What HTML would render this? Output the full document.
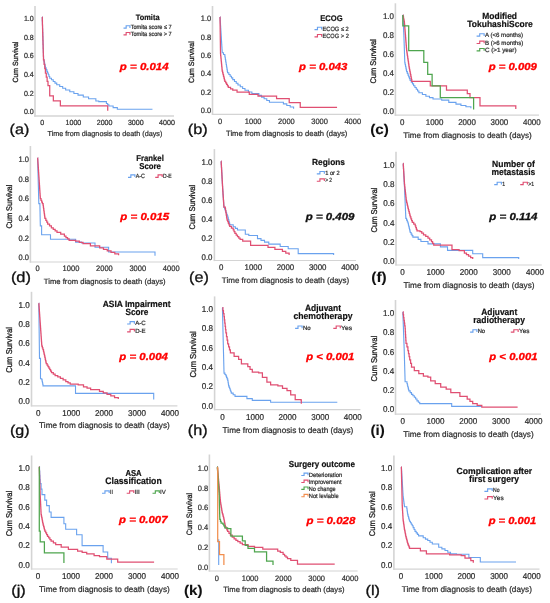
<!DOCTYPE html>
<html><head><meta charset="utf-8"><style>
html,body{margin:0;padding:0;background:#fff;}
svg{display:block;font-family:"Liberation Sans", sans-serif;text-rendering:geometricPrecision;filter:blur(0.35px);}
</style></head><body>
<svg width="550" height="603" viewBox="0 0 550 603">
<rect width="550" height="603" fill="#fff"/>
<line x1="35.00" y1="6.00" x2="35.00" y2="116.80" stroke="#d4d4d4" stroke-width="1.6"/>
<line x1="34.20" y1="116.00" x2="174.00" y2="116.00" stroke="#d4d4d4" stroke-width="1.6"/>
<text x="33.80" y="114.36" font-size="7.46" fill="#2e2e2e" stroke="#2e2e2e" stroke-width="0.22" text-anchor="end" textLength="9.87" lengthAdjust="spacingAndGlyphs">0.0</text>
<text x="33.80" y="95.68" font-size="7.46" fill="#2e2e2e" stroke="#2e2e2e" stroke-width="0.22" text-anchor="end" textLength="9.87" lengthAdjust="spacingAndGlyphs">0.2</text>
<text x="33.80" y="77.00" font-size="7.46" fill="#2e2e2e" stroke="#2e2e2e" stroke-width="0.22" text-anchor="end" textLength="9.87" lengthAdjust="spacingAndGlyphs">0.4</text>
<text x="33.80" y="58.32" font-size="7.46" fill="#2e2e2e" stroke="#2e2e2e" stroke-width="0.22" text-anchor="end" textLength="9.87" lengthAdjust="spacingAndGlyphs">0.6</text>
<text x="33.80" y="39.64" font-size="7.46" fill="#2e2e2e" stroke="#2e2e2e" stroke-width="0.22" text-anchor="end" textLength="9.87" lengthAdjust="spacingAndGlyphs">0.8</text>
<text x="33.80" y="20.96" font-size="7.46" fill="#2e2e2e" stroke="#2e2e2e" stroke-width="0.22" text-anchor="end" textLength="9.87" lengthAdjust="spacingAndGlyphs">1.0</text>
<text x="42.20" y="124.50" font-size="7.46" fill="#2e2e2e" stroke="#2e2e2e" stroke-width="0.22" text-anchor="middle" textLength="3.95" lengthAdjust="spacingAndGlyphs">0</text>
<text x="73.40" y="124.50" font-size="7.46" fill="#2e2e2e" stroke="#2e2e2e" stroke-width="0.22" text-anchor="middle" textLength="15.79" lengthAdjust="spacingAndGlyphs">1000</text>
<text x="104.60" y="124.50" font-size="7.46" fill="#2e2e2e" stroke="#2e2e2e" stroke-width="0.22" text-anchor="middle" textLength="15.79" lengthAdjust="spacingAndGlyphs">2000</text>
<text x="135.80" y="124.50" font-size="7.46" fill="#2e2e2e" stroke="#2e2e2e" stroke-width="0.22" text-anchor="middle" textLength="15.79" lengthAdjust="spacingAndGlyphs">3000</text>
<text x="167.00" y="124.50" font-size="7.46" fill="#2e2e2e" stroke="#2e2e2e" stroke-width="0.22" text-anchor="middle" textLength="15.79" lengthAdjust="spacingAndGlyphs">4000</text>
<text x="18.50" y="62.10" font-size="7.51" fill="#222" stroke="#222" stroke-width="0.3" text-anchor="middle" textLength="40.60" lengthAdjust="spacingAndGlyphs" transform="rotate(-90 18.50 62.10)">Cum Survival</text>
<text x="9.61" y="133.50" font-size="14.29" fill="#111" stroke="#111" stroke-width="0.3" textLength="19.67" lengthAdjust="spacingAndGlyphs">(a)</text>
<text x="47.57" y="136.10" font-size="7.21" fill="#2e2e2e" stroke="#2e2e2e" stroke-width="0.22" textLength="114.74" lengthAdjust="spacingAndGlyphs">Time from diagnosis to death (days)</text>
<text x="135.80" y="19.80" font-size="8.03" fill="#111" stroke="#111" stroke-width="0.2" font-weight="bold" textLength="23.70" lengthAdjust="spacingAndGlyphs">Tomita</text>
<path d="M123.50,28.10H126.16V25.70H129.94V27.90" fill="none" stroke="#6aa2ee" stroke-width="1.15"/>
<text x="130.70" y="29.20" font-size="6.20" fill="#303030" stroke="#303030" stroke-width="0.24" textLength="41.00" lengthAdjust="spacingAndGlyphs">Tomita score ≤ 7</text>
<path d="M123.50,34.90H126.16V32.50H129.94V34.70" fill="none" stroke="#e04f72" stroke-width="1.15"/>
<text x="130.70" y="36.00" font-size="6.20" fill="#303030" stroke="#303030" stroke-width="0.24" textLength="41.00" lengthAdjust="spacingAndGlyphs">Tomita score &gt; 7</text>
<text x="119.80" y="69.70" font-size="10.20" fill="#ff0000" stroke="#ff0000" stroke-width="0.3" font-weight="bold" font-style="italic" textLength="48.80" lengthAdjust="spacingAndGlyphs">p = 0.014</text>
<path d="M42.20,17.09H42.25V18.68H42.30V20.27H42.36V21.86H42.41V23.44H42.46V25.03H42.51V26.62H42.56V28.21H42.62V29.79H42.67V31.38H42.72V32.97H42.77V34.56H42.82V36.15H42.88V37.73H42.93V39.32H42.98V40.91H43.03V42.50H43.08V44.08H43.14V45.67H43.19V47.26H43.24V48.85H43.29V50.44H43.34V52.02H43.40V53.61H43.45V55.20H43.50V56.79H43.55V58.38H43.60V59.96H43.97V61.55H44.33V63.14H44.69V64.73H45.05V66.31H45.41V67.90H46.13V69.61H46.85V71.33H47.57V73.04H48.28V74.75H49.00V76.46H49.72V78.18H51.47V79.81H53.23V81.44H54.98V83.08H56.74V84.71H59.71V86.49H62.69V88.26H65.66V90.04H69.78V91.75H73.90V93.46H78.02V95.17H83.29V96.95H88.56V98.72H95.86V100.97H98.77V101.62H106.41V103.49H107.66V104.75H108.91V106.01H113.12V107.64H117.33V109.28H152.46V109.28" fill="none" stroke="#6aa2ee" stroke-width="1.1"/>
<path d="M42.20,17.09H42.31V20.99H42.43V24.89H42.54V28.78H42.65V32.68H42.77V36.58H42.88V40.48H42.99V44.37H43.11V48.27H43.22V52.17H43.33V56.07H43.45V59.96H44.10V64.32H44.76V68.68H45.41V73.04H46.28V77.24H47.14V81.44H48.00V85.65H49.72V95.92H53.34V100.97H60.36V105.82H107.72V105.82V110.87" fill="none" stroke="#e04f72" stroke-width="1.25"/>
<line x1="212.50" y1="6.00" x2="212.50" y2="114.90" stroke="#d4d4d4" stroke-width="1.6"/>
<line x1="211.90" y1="114.30" x2="360.40" y2="114.30" stroke="#d4d4d4" stroke-width="1.2"/>
<text x="211.20" y="113.20" font-size="7.88" fill="#2e2e2e" stroke="#2e2e2e" stroke-width="0.22" text-anchor="end" textLength="10.43" lengthAdjust="spacingAndGlyphs">0.0</text>
<text x="211.20" y="94.78" font-size="7.88" fill="#2e2e2e" stroke="#2e2e2e" stroke-width="0.22" text-anchor="end" textLength="10.43" lengthAdjust="spacingAndGlyphs">0.2</text>
<text x="211.20" y="76.36" font-size="7.88" fill="#2e2e2e" stroke="#2e2e2e" stroke-width="0.22" text-anchor="end" textLength="10.43" lengthAdjust="spacingAndGlyphs">0.4</text>
<text x="211.20" y="57.94" font-size="7.88" fill="#2e2e2e" stroke="#2e2e2e" stroke-width="0.22" text-anchor="end" textLength="10.43" lengthAdjust="spacingAndGlyphs">0.6</text>
<text x="211.20" y="39.52" font-size="7.88" fill="#2e2e2e" stroke="#2e2e2e" stroke-width="0.22" text-anchor="end" textLength="10.43" lengthAdjust="spacingAndGlyphs">0.8</text>
<text x="211.20" y="21.10" font-size="7.88" fill="#2e2e2e" stroke="#2e2e2e" stroke-width="0.22" text-anchor="end" textLength="10.43" lengthAdjust="spacingAndGlyphs">1.0</text>
<text x="220.00" y="123.60" font-size="7.88" fill="#2e2e2e" stroke="#2e2e2e" stroke-width="0.22" text-anchor="middle" textLength="4.17" lengthAdjust="spacingAndGlyphs">0</text>
<text x="253.20" y="123.60" font-size="7.88" fill="#2e2e2e" stroke="#2e2e2e" stroke-width="0.22" text-anchor="middle" textLength="16.69" lengthAdjust="spacingAndGlyphs">1000</text>
<text x="286.40" y="123.60" font-size="7.88" fill="#2e2e2e" stroke="#2e2e2e" stroke-width="0.22" text-anchor="middle" textLength="16.69" lengthAdjust="spacingAndGlyphs">2000</text>
<text x="319.60" y="123.60" font-size="7.88" fill="#2e2e2e" stroke="#2e2e2e" stroke-width="0.22" text-anchor="middle" textLength="16.69" lengthAdjust="spacingAndGlyphs">3000</text>
<text x="352.80" y="123.60" font-size="7.88" fill="#2e2e2e" stroke="#2e2e2e" stroke-width="0.22" text-anchor="middle" textLength="16.69" lengthAdjust="spacingAndGlyphs">4000</text>
<text x="194.50" y="62.10" font-size="7.70" fill="#222" stroke="#222" stroke-width="0.3" text-anchor="middle" textLength="41.60" lengthAdjust="spacingAndGlyphs" transform="rotate(-90 194.50 62.10)">Cum Survival</text>
<text x="187.71" y="133.50" font-size="14.29" fill="#111" stroke="#111" stroke-width="0.3" textLength="19.97" lengthAdjust="spacingAndGlyphs">(b)</text>
<text x="226.06" y="135.80" font-size="7.62" fill="#2e2e2e" stroke="#2e2e2e" stroke-width="0.22" textLength="121.28" lengthAdjust="spacingAndGlyphs">Time from diagnosis to death (days)</text>
<text x="320.30" y="20.70" font-size="8.24" fill="#111" stroke="#111" stroke-width="0.2" font-weight="bold" textLength="22.40" lengthAdjust="spacingAndGlyphs">ECOG</text>
<path d="M314.50,29.60H317.46V27.20H321.68V29.40" fill="none" stroke="#6aa2ee" stroke-width="1.15"/>
<text x="322.50" y="30.70" font-size="6.20" fill="#303030" stroke="#303030" stroke-width="0.24" textLength="26.30" lengthAdjust="spacingAndGlyphs">ECOG ≤ 2</text>
<path d="M314.50,36.90H317.46V34.50H321.68V36.70" fill="none" stroke="#e04f72" stroke-width="1.15"/>
<text x="322.50" y="38.00" font-size="6.20" fill="#303030" stroke="#303030" stroke-width="0.24" textLength="26.30" lengthAdjust="spacingAndGlyphs">ECOG &gt; 2</text>
<text x="299.10" y="70.00" font-size="10.20" fill="#ff0000" stroke="#ff0000" stroke-width="0.3" font-weight="bold" font-style="italic" textLength="48.30" lengthAdjust="spacingAndGlyphs">p = 0.043</text>
<path d="M220.00,17.11H220.10V18.73H220.20V20.35H220.30V21.97H220.40V23.59H220.50V25.21H220.60V26.83H220.70V28.45H220.80V30.07H220.90V31.69H221.00V33.31H221.10V34.93H221.20V36.55H221.29V38.17H221.39V39.79H221.49V41.41H221.59V43.03H221.69V44.65H221.79V46.27H221.89V47.89H221.99V49.51H222.09V51.13H222.19V52.75H223.50V54.46H224.81V56.16H225.09V57.82H225.36V59.48H225.63V61.13H225.90V62.79H226.18V64.45H226.45V66.11H226.72V67.77H226.99V69.42H227.26V71.08H227.54V72.74H228.84V74.47H230.14V76.19H231.45V77.92H232.75V79.65H234.49V81.43H236.22V83.21H237.96V84.99H240.30V86.74H242.63V88.49H244.97V90.24H248.44V91.94H251.91V93.65H258.91V95.40H261.52V97.10H264.12V98.80H266.78V100.55H269.43V102.30H279.99V102.30H283.40V103.89H286.80V105.48H290.20V107.07H293.60V108.66" fill="none" stroke="#6aa2ee" stroke-width="1.1"/>
<path d="M220.00,17.11H220.02V18.70H220.04V20.29H220.06V21.88H220.09V23.47H220.11V25.06H220.13V26.65H220.15V28.24H220.17V29.83H220.19V31.42H220.22V33.01H220.24V34.60H220.26V36.19H220.28V37.78H220.30V39.37H220.32V40.96H220.35V42.55H220.37V44.14H220.39V45.73H220.41V47.32H220.43V48.91H220.45V50.49H220.48V52.08H220.50V53.67H220.65V55.27H220.81V56.86H220.96V58.45H221.11V60.04H221.27V61.63H221.42V63.22H221.58V64.81H221.73V66.40H221.88V67.99H222.04V69.58H222.19V71.17H222.63V72.89H223.07V74.61H223.50V76.33H223.94V78.05H224.38V79.77H224.81V81.49H225.69V82.99H226.57V84.48H227.45V85.98H228.33V87.47H230.54V88.86H232.75V90.24H237.06V92.08H249.28V94.47H258.01V96.22H276.57V98.53H289.22V102.67H300.24V107.46H337.06V107.46" fill="none" stroke="#e04f72" stroke-width="1.25"/>
<line x1="395.40" y1="3.30" x2="395.40" y2="115.80" stroke="#d4d4d4" stroke-width="1.6"/>
<line x1="394.80" y1="115.20" x2="539.00" y2="115.20" stroke="#d4d4d4" stroke-width="1.2"/>
<text x="394.00" y="114.16" font-size="8.35" fill="#2e2e2e" stroke="#2e2e2e" stroke-width="0.22" text-anchor="end" textLength="11.06" lengthAdjust="spacingAndGlyphs">0.0</text>
<text x="394.00" y="95.18" font-size="8.35" fill="#2e2e2e" stroke="#2e2e2e" stroke-width="0.22" text-anchor="end" textLength="11.06" lengthAdjust="spacingAndGlyphs">0.2</text>
<text x="394.00" y="76.20" font-size="8.35" fill="#2e2e2e" stroke="#2e2e2e" stroke-width="0.22" text-anchor="end" textLength="11.06" lengthAdjust="spacingAndGlyphs">0.4</text>
<text x="394.00" y="57.22" font-size="8.35" fill="#2e2e2e" stroke="#2e2e2e" stroke-width="0.22" text-anchor="end" textLength="11.06" lengthAdjust="spacingAndGlyphs">0.6</text>
<text x="394.00" y="38.24" font-size="8.35" fill="#2e2e2e" stroke="#2e2e2e" stroke-width="0.22" text-anchor="end" textLength="11.06" lengthAdjust="spacingAndGlyphs">0.8</text>
<text x="394.00" y="19.26" font-size="8.35" fill="#2e2e2e" stroke="#2e2e2e" stroke-width="0.22" text-anchor="end" textLength="11.06" lengthAdjust="spacingAndGlyphs">1.0</text>
<text x="402.20" y="124.90" font-size="8.35" fill="#2e2e2e" stroke="#2e2e2e" stroke-width="0.22" text-anchor="middle" textLength="4.42" lengthAdjust="spacingAndGlyphs">0</text>
<text x="434.60" y="124.90" font-size="8.35" fill="#2e2e2e" stroke="#2e2e2e" stroke-width="0.22" text-anchor="middle" textLength="17.69" lengthAdjust="spacingAndGlyphs">1000</text>
<text x="467.00" y="124.90" font-size="8.35" fill="#2e2e2e" stroke="#2e2e2e" stroke-width="0.22" text-anchor="middle" textLength="17.69" lengthAdjust="spacingAndGlyphs">2000</text>
<text x="499.40" y="124.90" font-size="8.35" fill="#2e2e2e" stroke="#2e2e2e" stroke-width="0.22" text-anchor="middle" textLength="17.69" lengthAdjust="spacingAndGlyphs">3000</text>
<text x="531.80" y="124.90" font-size="8.35" fill="#2e2e2e" stroke="#2e2e2e" stroke-width="0.22" text-anchor="middle" textLength="17.69" lengthAdjust="spacingAndGlyphs">4000</text>
<text x="375.90" y="61.30" font-size="8.23" fill="#222" stroke="#222" stroke-width="0.3" text-anchor="middle" textLength="44.50" lengthAdjust="spacingAndGlyphs" transform="rotate(-90 375.90 61.30)">Cum Survival</text>
<text x="370.30" y="133.57" font-size="13.97" fill="#111" stroke="#111" stroke-width="0.1" font-weight="bold" textLength="18.61" lengthAdjust="spacingAndGlyphs">(c)</text>
<text x="403.25" y="137.80" font-size="8.08" fill="#2e2e2e" stroke="#2e2e2e" stroke-width="0.22" textLength="128.52" lengthAdjust="spacingAndGlyphs">Time from diagnosis to death (days)</text>
<text x="482.30" y="18.60" font-size="8.88" fill="#111" stroke="#111" stroke-width="0.2" font-weight="bold" textLength="34.70" lengthAdjust="spacingAndGlyphs">Modified</text>
<text x="467.30" y="26.80" font-size="8.99" fill="#111" stroke="#111" stroke-width="0.2" font-weight="bold" textLength="65.40" lengthAdjust="spacingAndGlyphs">TokuhashiScore</text>
<path d="M476.60,36.10H479.72V33.70H484.14V35.90" fill="none" stroke="#6aa2ee" stroke-width="1.15"/>
<text x="485.00" y="37.20" font-size="6.20" fill="#303030" stroke="#303030" stroke-width="0.24" textLength="38.10" lengthAdjust="spacingAndGlyphs">A (&lt;6 months)</text>
<path d="M476.60,43.50H479.72V41.10H484.14V43.30" fill="none" stroke="#e04f72" stroke-width="1.15"/>
<text x="485.00" y="44.60" font-size="6.20" fill="#303030" stroke="#303030" stroke-width="0.24" textLength="38.30" lengthAdjust="spacingAndGlyphs">B (&gt;6 months)</text>
<path d="M476.60,50.90H479.72V48.50H484.14V50.70" fill="none" stroke="#4ea54e" stroke-width="1.15"/>
<text x="485.00" y="52.00" font-size="6.20" fill="#303030" stroke="#303030" stroke-width="0.24" textLength="31.50" lengthAdjust="spacingAndGlyphs">C (&gt;1 year)</text>
<text x="488.70" y="69.70" font-size="10.20" fill="#ff0000" stroke="#ff0000" stroke-width="0.3" font-weight="bold" font-style="italic" textLength="48.20" lengthAdjust="spacingAndGlyphs">p = 0.009</text>
<path d="M402.85,15.07H402.93V16.71H403.01V18.34H403.09V19.98H403.17V21.61H403.25V23.25H403.33V24.88H403.41V26.52H403.49V28.15H403.57V29.79H403.65V31.42H403.73V33.06H403.81V34.69H403.88V36.33H403.94V37.89H403.99V39.46H404.04V41.02H404.10V42.58H404.15V44.14H404.20V45.71H404.26V47.27H404.31V48.83H404.37V50.40H404.42V51.96H404.47V53.52H404.53V55.09H404.58V56.65H404.63V58.21H404.69V59.77H404.74V61.34H404.79V62.90H405.15V64.65H405.52V66.39H405.88V68.14H406.24V69.89H406.61V71.63H407.31V73.38H408.01V75.12H408.71V76.87H409.41V78.62H410.11V80.36H411.27V82.13H412.44V83.91H413.60V85.68H414.93V87.43H416.25V89.19H417.57V90.94H418.89V92.70H422.39V94.46H425.88V96.21H429.45V97.59H433.01V98.96H441.70V100.10H448.79V102.38H455.98V104.09H460.95V105.45H465.92V106.81H470.89V108.17" fill="none" stroke="#6aa2ee" stroke-width="1.1"/>
<path d="M402.85,15.07H403.16V16.67H403.47V18.26H403.78V19.85H404.09V21.45H404.40V23.04H404.53V24.66H404.66V26.28H404.79V27.90H404.92V29.52H405.05V31.14H405.18V32.76H405.31V34.38H405.44V35.99H405.57V37.61H405.70V39.23H405.83V40.85H405.96V42.47H406.09V44.09H406.22V45.71H406.35V47.33H406.48V48.95H406.61V50.56H406.84V52.16H407.08V53.76H407.31V55.35H407.55V56.95H407.78V58.54H408.02V60.14H408.26V61.74H408.49V63.33H408.73V64.93H408.96V66.52H409.20V68.12H409.52V69.77H409.85V71.42H410.17V73.07H410.49V74.72H410.82V76.36H411.14V78.01H411.47V79.66H411.79V81.31H430.29V85.96H446.49V90.04H467.29V93.55H470.01V97.63H479.99V105.99H515.79V109.12" fill="none" stroke="#e04f72" stroke-width="1.25"/>
<path d="M402.85,15.07H402.85V25.89H408.71V50.56H423.81V62.33H427.70V74.29H432.11V85.96H440.30V97.63H473.61V109.59" fill="none" stroke="#4ea54e" stroke-width="1.25"/>
<line x1="30.40" y1="146.00" x2="30.40" y2="262.60" stroke="#d4d4d4" stroke-width="1.6"/>
<line x1="29.80" y1="262.00" x2="178.60" y2="262.00" stroke="#d4d4d4" stroke-width="1.2"/>
<text x="29.00" y="260.21" font-size="7.91" fill="#2e2e2e" stroke="#2e2e2e" stroke-width="0.22" text-anchor="end" textLength="10.48" lengthAdjust="spacingAndGlyphs">0.0</text>
<text x="29.00" y="240.57" font-size="7.91" fill="#2e2e2e" stroke="#2e2e2e" stroke-width="0.22" text-anchor="end" textLength="10.48" lengthAdjust="spacingAndGlyphs">0.2</text>
<text x="29.00" y="220.93" font-size="7.91" fill="#2e2e2e" stroke="#2e2e2e" stroke-width="0.22" text-anchor="end" textLength="10.48" lengthAdjust="spacingAndGlyphs">0.4</text>
<text x="29.00" y="201.29" font-size="7.91" fill="#2e2e2e" stroke="#2e2e2e" stroke-width="0.22" text-anchor="end" textLength="10.48" lengthAdjust="spacingAndGlyphs">0.6</text>
<text x="29.00" y="181.65" font-size="7.91" fill="#2e2e2e" stroke="#2e2e2e" stroke-width="0.22" text-anchor="end" textLength="10.48" lengthAdjust="spacingAndGlyphs">0.8</text>
<text x="29.00" y="162.01" font-size="7.91" fill="#2e2e2e" stroke="#2e2e2e" stroke-width="0.22" text-anchor="end" textLength="10.48" lengthAdjust="spacingAndGlyphs">1.0</text>
<text x="37.60" y="271.00" font-size="7.91" fill="#2e2e2e" stroke="#2e2e2e" stroke-width="0.22" text-anchor="middle" textLength="4.19" lengthAdjust="spacingAndGlyphs">0</text>
<text x="71.00" y="271.00" font-size="7.91" fill="#2e2e2e" stroke="#2e2e2e" stroke-width="0.22" text-anchor="middle" textLength="16.76" lengthAdjust="spacingAndGlyphs">1000</text>
<text x="104.40" y="271.00" font-size="7.91" fill="#2e2e2e" stroke="#2e2e2e" stroke-width="0.22" text-anchor="middle" textLength="16.76" lengthAdjust="spacingAndGlyphs">2000</text>
<text x="137.80" y="271.00" font-size="7.91" fill="#2e2e2e" stroke="#2e2e2e" stroke-width="0.22" text-anchor="middle" textLength="16.76" lengthAdjust="spacingAndGlyphs">3000</text>
<text x="171.20" y="271.00" font-size="7.91" fill="#2e2e2e" stroke="#2e2e2e" stroke-width="0.22" text-anchor="middle" textLength="16.76" lengthAdjust="spacingAndGlyphs">4000</text>
<text x="12.50" y="206.60" font-size="8.12" fill="#222" stroke="#222" stroke-width="0.3" text-anchor="middle" textLength="43.90" lengthAdjust="spacingAndGlyphs" transform="rotate(-90 12.50 206.60)">Cum Survival</text>
<text x="10.91" y="282.18" font-size="14.39" fill="#111" stroke="#111" stroke-width="0.3" textLength="20.08" lengthAdjust="spacingAndGlyphs">(d)</text>
<text x="43.86" y="283.50" font-size="7.65" fill="#2e2e2e" stroke="#2e2e2e" stroke-width="0.22" textLength="121.78" lengthAdjust="spacingAndGlyphs">Time from diagnosis to death (days)</text>
<text x="136.30" y="160.90" font-size="8.56" fill="#111" stroke="#111" stroke-width="0.2" font-weight="bold" textLength="27.50" lengthAdjust="spacingAndGlyphs">Frankel</text>
<text x="139.20" y="168.70" font-size="8.56" fill="#111" stroke="#111" stroke-width="0.2" font-weight="bold" textLength="21.70" lengthAdjust="spacingAndGlyphs">Score</text>
<path d="M128.00,177.30H130.85V174.90H134.90V177.10" fill="none" stroke="#6aa2ee" stroke-width="1.15"/>
<text x="135.70" y="178.40" font-size="6.20" fill="#303030" stroke="#303030" stroke-width="0.24" textLength="9.10" lengthAdjust="spacingAndGlyphs">A-C</text>
<path d="M155.20,177.30H158.09V174.90H162.19V177.10" fill="none" stroke="#e04f72" stroke-width="1.15"/>
<text x="163.00" y="178.40" font-size="6.20" fill="#303030" stroke="#303030" stroke-width="0.24" textLength="8.70" lengthAdjust="spacingAndGlyphs">D-E</text>
<text x="120.30" y="219.70" font-size="10.20" fill="#ff0000" stroke="#ff0000" stroke-width="0.3" font-weight="bold" font-style="italic" textLength="48.90" lengthAdjust="spacingAndGlyphs">p = 0.015</text>
<path d="M37.60,157.93H37.64V159.50H37.68V161.07H37.72V162.65H37.77V164.22H37.81V165.80H37.85V167.37H37.89V168.95H37.93V170.52H37.97V172.10H38.01V173.67H38.06V175.25H38.10V176.82H38.14V178.39H38.18V179.97H38.22V181.54H38.26V183.12H38.30V184.69H38.35V186.27H38.39V187.84H38.43V189.42H38.47V190.99H38.51V192.57H38.55V194.14H38.60V195.72H38.64V197.29H38.68V198.86H38.72V200.44H38.76V202.01H38.80V203.59H39.90V205.45H39.94V207.03H39.97V208.60H40.00V210.17H40.03V211.74H40.06V213.31H40.09V214.88H40.12V216.45H40.15V218.02H40.18V219.59H40.21V221.17H40.24V222.74H40.27V224.31H40.31V225.88H41.61V227.75V234.82H50.49V239.23H75.61V242.08H81.49V242.97H95.01V247.19H108.61V252.00H155.00V255.73" fill="none" stroke="#6aa2ee" stroke-width="1.1"/>
<path d="M37.60,157.93H37.71V159.55H37.82V161.18H37.92V162.80H38.03V164.43H38.14V166.06H38.25V167.68H38.36V169.31H38.47V170.93H38.57V172.56H38.68V174.19H38.79V175.81H38.90V177.44H39.01V179.07H39.12V180.69H39.22V182.32H39.33V183.94H39.44V185.57H39.55V187.20H39.66V188.82H39.76V190.45H39.87V192.08H39.98V193.70H40.09V195.33H40.20V196.95H40.31V198.58H41.01V200.30H41.71V202.02H42.41V203.74H43.11V205.45H43.34V207.07H43.56V208.69H43.79V210.31H44.01V211.94H44.24V213.56H44.46V215.18H44.69V216.80H44.91V218.42H45.84V220.28H46.76V222.15H47.69V224.01H49.54V225.88H51.39V227.75H53.26V229.28H55.13V230.82H57.01V232.36H60.70V234.23H64.39V236.09H65.96V237.50H67.53V238.91H69.10V240.31H75.61V241.00H79.30V242.28H82.99V243.56H90.41V245.91H99.69V247.78H103.47V249.27H107.25V250.76H111.03V252.26H114.81V253.75H118.59V255.24" fill="none" stroke="#e04f72" stroke-width="1.25"/>
<line x1="214.40" y1="149.10" x2="214.40" y2="261.10" stroke="#d4d4d4" stroke-width="1.6"/>
<line x1="213.80" y1="260.50" x2="356.00" y2="260.50" stroke="#d4d4d4" stroke-width="1.2"/>
<text x="212.50" y="259.64" font-size="8.28" fill="#2e2e2e" stroke="#2e2e2e" stroke-width="0.22" text-anchor="end" textLength="10.96" lengthAdjust="spacingAndGlyphs">0.0</text>
<text x="212.50" y="240.78" font-size="8.28" fill="#2e2e2e" stroke="#2e2e2e" stroke-width="0.22" text-anchor="end" textLength="10.96" lengthAdjust="spacingAndGlyphs">0.2</text>
<text x="212.50" y="221.92" font-size="8.28" fill="#2e2e2e" stroke="#2e2e2e" stroke-width="0.22" text-anchor="end" textLength="10.96" lengthAdjust="spacingAndGlyphs">0.4</text>
<text x="212.50" y="203.06" font-size="8.28" fill="#2e2e2e" stroke="#2e2e2e" stroke-width="0.22" text-anchor="end" textLength="10.96" lengthAdjust="spacingAndGlyphs">0.6</text>
<text x="212.50" y="184.20" font-size="8.28" fill="#2e2e2e" stroke="#2e2e2e" stroke-width="0.22" text-anchor="end" textLength="10.96" lengthAdjust="spacingAndGlyphs">0.8</text>
<text x="212.50" y="165.34" font-size="8.28" fill="#2e2e2e" stroke="#2e2e2e" stroke-width="0.22" text-anchor="end" textLength="10.96" lengthAdjust="spacingAndGlyphs">1.0</text>
<text x="221.10" y="270.40" font-size="8.28" fill="#2e2e2e" stroke="#2e2e2e" stroke-width="0.22" text-anchor="middle" textLength="4.38" lengthAdjust="spacingAndGlyphs">0</text>
<text x="253.30" y="270.40" font-size="8.28" fill="#2e2e2e" stroke="#2e2e2e" stroke-width="0.22" text-anchor="middle" textLength="17.54" lengthAdjust="spacingAndGlyphs">1000</text>
<text x="285.50" y="270.40" font-size="8.28" fill="#2e2e2e" stroke="#2e2e2e" stroke-width="0.22" text-anchor="middle" textLength="17.54" lengthAdjust="spacingAndGlyphs">2000</text>
<text x="317.70" y="270.40" font-size="8.28" fill="#2e2e2e" stroke="#2e2e2e" stroke-width="0.22" text-anchor="middle" textLength="17.54" lengthAdjust="spacingAndGlyphs">3000</text>
<text x="349.90" y="270.40" font-size="8.28" fill="#2e2e2e" stroke="#2e2e2e" stroke-width="0.22" text-anchor="middle" textLength="17.54" lengthAdjust="spacingAndGlyphs">4000</text>
<text x="195.00" y="207.20" font-size="8.23" fill="#222" stroke="#222" stroke-width="0.3" text-anchor="middle" textLength="44.50" lengthAdjust="spacingAndGlyphs" transform="rotate(-90 195.00 207.20)">Cum Survival</text>
<text x="188.99" y="282.33" font-size="14.61" fill="#111" stroke="#111" stroke-width="0.3" textLength="19.81" lengthAdjust="spacingAndGlyphs">(e)</text>
<text x="221.85" y="283.20" font-size="8.01" fill="#2e2e2e" stroke="#2e2e2e" stroke-width="0.22" textLength="127.41" lengthAdjust="spacingAndGlyphs">Time from diagnosis to death (days)</text>
<text x="312.10" y="164.70" font-size="8.77" fill="#111" stroke="#111" stroke-width="0.2" font-weight="bold" textLength="32.90" lengthAdjust="spacingAndGlyphs">Regions</text>
<path d="M316.80,173.90H319.92V171.50H324.34V173.70" fill="none" stroke="#6aa2ee" stroke-width="1.15"/>
<text x="325.20" y="175.00" font-size="6.20" fill="#303030" stroke="#303030" stroke-width="0.24" textLength="14.50" lengthAdjust="spacingAndGlyphs">1 or 2</text>
<path d="M316.80,181.20H319.92V178.80H324.34V181.00" fill="none" stroke="#e04f72" stroke-width="1.15"/>
<text x="325.20" y="182.30" font-size="6.20" fill="#303030" stroke="#303030" stroke-width="0.24" textLength="6.80" lengthAdjust="spacingAndGlyphs">&gt; 2</text>
<text x="305.70" y="220.00" font-size="10.20" fill="#111" stroke="#111" stroke-width="0.3" font-weight="bold" font-style="italic" textLength="48.80" lengthAdjust="spacingAndGlyphs">p = 0.409</text>
<path d="M221.10,161.18H221.19V162.77H221.28V164.37H221.37V165.96H221.46V167.55H221.55V169.14H221.64V170.74H221.73V172.33H221.82V173.92H221.91V175.51H221.99V177.11H222.08V178.70H222.17V180.29H222.26V181.88H222.35V183.48H222.44V185.07H222.53V186.66H222.62V188.25H222.71V189.85H222.82V191.42H222.93V193.00H223.03V194.58H223.14V196.16H223.25V197.73H223.36V199.31H223.47V200.89H223.58V202.47H223.68V204.04H223.79V205.62H223.90V207.20H224.59V208.94H225.29V210.69H225.94V212.46H226.59V214.22H227.24V215.99H227.89V217.76H228.34V219.50H228.80V221.25H229.25V222.99H229.70V224.74H233.21V226.81H235.35V228.42H237.49V230.02H245.31V234.26H248.79V235.49H257.49V238.60H261.00V240.34H264.51V242.09H268.79V244.16H280.19V246.43H288.20V248.69H298.19V253.59H333.61V254.91" fill="none" stroke="#6aa2ee" stroke-width="1.1"/>
<path d="M221.10,161.18H221.19V162.77H221.28V164.37H221.37V165.96H221.46V167.55H221.55V169.14H221.64V170.74H221.73V172.33H221.82V173.92H221.91V175.51H221.99V177.11H222.08V178.70H222.17V180.29H222.26V181.88H222.35V183.48H222.44V185.07H222.53V186.66H222.62V188.25H222.71V189.85H222.82V191.42H222.93V193.00H223.03V194.58H223.14V196.16H223.25V197.73H223.36V199.31H223.47V200.89H223.58V202.47H223.68V204.04H223.79V205.62H223.90V207.20H225.29V208.99H225.54V210.59H225.80V212.20H226.06V213.80H226.32V215.40H226.57V217.01H226.83V218.61H227.09V220.21H227.74V221.74H228.39V223.28H229.05V224.81H229.70V226.34H231.45V228.09H233.21V229.83H234.06V231.57H234.91V233.32H236.20V235.02H237.49V236.71H238.79V238.08H240.10V239.45H242.71V241.15H250.60V245.48H268.02V247.28H274.91V249.44H279.09V249.44H282.43V251.27H285.77V253.09H289.11V254.91" fill="none" stroke="#e04f72" stroke-width="1.25"/>
<line x1="396.00" y1="151.80" x2="396.00" y2="265.60" stroke="#d4d4d4" stroke-width="1.6"/>
<line x1="395.40" y1="265.00" x2="541.80" y2="265.00" stroke="#d4d4d4" stroke-width="1.2"/>
<text x="394.50" y="264.12" font-size="8.52" fill="#2e2e2e" stroke="#2e2e2e" stroke-width="0.22" text-anchor="end" textLength="11.27" lengthAdjust="spacingAndGlyphs">0.0</text>
<text x="394.50" y="244.84" font-size="8.52" fill="#2e2e2e" stroke="#2e2e2e" stroke-width="0.22" text-anchor="end" textLength="11.27" lengthAdjust="spacingAndGlyphs">0.2</text>
<text x="394.50" y="225.56" font-size="8.52" fill="#2e2e2e" stroke="#2e2e2e" stroke-width="0.22" text-anchor="end" textLength="11.27" lengthAdjust="spacingAndGlyphs">0.4</text>
<text x="394.50" y="206.28" font-size="8.52" fill="#2e2e2e" stroke="#2e2e2e" stroke-width="0.22" text-anchor="end" textLength="11.27" lengthAdjust="spacingAndGlyphs">0.6</text>
<text x="394.50" y="187.00" font-size="8.52" fill="#2e2e2e" stroke="#2e2e2e" stroke-width="0.22" text-anchor="end" textLength="11.27" lengthAdjust="spacingAndGlyphs">0.8</text>
<text x="394.50" y="167.72" font-size="8.52" fill="#2e2e2e" stroke="#2e2e2e" stroke-width="0.22" text-anchor="end" textLength="11.27" lengthAdjust="spacingAndGlyphs">1.0</text>
<text x="402.50" y="274.80" font-size="8.52" fill="#2e2e2e" stroke="#2e2e2e" stroke-width="0.22" text-anchor="middle" textLength="4.51" lengthAdjust="spacingAndGlyphs">0</text>
<text x="435.60" y="274.80" font-size="8.52" fill="#2e2e2e" stroke="#2e2e2e" stroke-width="0.22" text-anchor="middle" textLength="18.04" lengthAdjust="spacingAndGlyphs">1000</text>
<text x="468.70" y="274.80" font-size="8.52" fill="#2e2e2e" stroke="#2e2e2e" stroke-width="0.22" text-anchor="middle" textLength="18.04" lengthAdjust="spacingAndGlyphs">2000</text>
<text x="501.80" y="274.80" font-size="8.52" fill="#2e2e2e" stroke="#2e2e2e" stroke-width="0.22" text-anchor="middle" textLength="18.04" lengthAdjust="spacingAndGlyphs">3000</text>
<text x="534.90" y="274.80" font-size="8.52" fill="#2e2e2e" stroke="#2e2e2e" stroke-width="0.22" text-anchor="middle" textLength="18.04" lengthAdjust="spacingAndGlyphs">4000</text>
<text x="376.50" y="210.00" font-size="8.34" fill="#222" stroke="#222" stroke-width="0.3" text-anchor="middle" textLength="45.10" lengthAdjust="spacingAndGlyphs" transform="rotate(-90 376.50 210.00)">Cum Survival</text>
<text x="371.39" y="282.40" font-size="14.29" fill="#111" stroke="#111" stroke-width="0.1" font-weight="bold" textLength="15.34" lengthAdjust="spacingAndGlyphs">(f)</text>
<text x="403.54" y="288.00" font-size="8.23" fill="#2e2e2e" stroke="#2e2e2e" stroke-width="0.22" textLength="131.03" lengthAdjust="spacingAndGlyphs">Time from diagnosis to death (days)</text>
<text x="492.10" y="167.10" font-size="9.10" fill="#111" stroke="#111" stroke-width="0.2" font-weight="bold" textLength="42.70" lengthAdjust="spacingAndGlyphs">Number of</text>
<text x="491.50" y="175.00" font-size="9.10" fill="#111" stroke="#111" stroke-width="0.2" font-weight="bold" textLength="43.80" lengthAdjust="spacingAndGlyphs">metastasis</text>
<path d="M494.20,184.60H497.16V182.20H501.38V184.40" fill="none" stroke="#6aa2ee" stroke-width="1.15"/>
<text x="502.20" y="185.70" font-size="6.20" fill="#303030" stroke="#303030" stroke-width="0.24" textLength="2.90" lengthAdjust="spacingAndGlyphs">1</text>
<path d="M520.20,184.60H523.16V182.20H527.38V184.40" fill="none" stroke="#e04f72" stroke-width="1.15"/>
<text x="528.20" y="185.70" font-size="6.20" fill="#303030" stroke="#303030" stroke-width="0.24" textLength="5.90" lengthAdjust="spacingAndGlyphs">&gt;1</text>
<text x="489.30" y="219.70" font-size="10.20" fill="#111" stroke="#111" stroke-width="0.3" font-weight="bold" font-style="italic" textLength="48.20" lengthAdjust="spacingAndGlyphs">p = 0.114</text>
<path d="M403.16,163.45H403.25V165.10H403.34V166.74H403.43V168.39H403.52V170.03H403.60V171.68H403.69V173.32H403.78V174.97H403.87V176.61H403.96V178.26H404.04V179.90H404.13V181.55H404.22V183.19H404.31V184.84H404.40V186.48H404.49V188.13H404.56V189.72H404.63V191.32H404.70V192.91H404.76V194.50H404.83V196.09H404.90V197.69H404.97V199.28H405.04V200.87H405.11V202.47H405.18V204.06H405.25V205.65H405.32V207.25H405.39V208.84H405.46V210.43H405.53V212.03H405.60V213.62H405.67V215.21H405.74V216.81H405.81V218.40H406.57V220.17H407.33V221.93H408.09V223.70H408.45V225.18H408.80V226.66H409.15V228.13H409.51V229.61H409.86V231.09H410.21V232.57H411.11V234.08H412.00V235.59H412.89V237.10H418.19V239.41H420.90V241.53H427.99V243.85H440.40V246.84H447.52V250.40H472.71V253.68H482.70V257.63H518.71V259.08" fill="none" stroke="#6aa2ee" stroke-width="1.1"/>
<path d="M403.16,163.45H403.26V165.08H403.37V166.71H403.47V168.34H403.57V169.98H403.67V171.61H403.77V173.24H403.87V174.87H403.98V176.50H404.08V178.13H404.18V179.76H404.28V181.40H404.38V183.03H404.49V184.66H404.67V186.29H404.85V187.92H405.03V189.55H405.21V191.18H405.40V192.80H405.58V194.43H405.76V196.06H405.94V197.69H406.12V199.32H406.31V200.95H406.65V202.43H407.00V203.91H407.35V205.38H407.70V206.86H408.04V208.34H408.39V209.82H408.85V211.60H409.30V213.39H409.76V215.17H410.21V216.95H410.91V218.78H411.60V220.62H412.30V222.45H413.75V224.18H415.21V225.92H415.81V227.59H416.40V229.26H417.00V230.93H420.01V231.61H421.75V233.20H423.49V234.79H425.74V236.43H427.99V238.06H429.74V239.80H431.50V241.53H432.60V243.27H433.71V245.00H451.98V249.54H459.10V250.69H464.40V253.01H466.47V254.52H468.55V256.04H470.63V257.56H472.71V259.08" fill="none" stroke="#e04f72" stroke-width="1.25"/>
<line x1="31.50" y1="291.80" x2="31.50" y2="406.40" stroke="#d4d4d4" stroke-width="1.6"/>
<line x1="30.90" y1="405.80" x2="177.40" y2="405.80" stroke="#d4d4d4" stroke-width="1.2"/>
<text x="29.70" y="404.21" font-size="8.49" fill="#2e2e2e" stroke="#2e2e2e" stroke-width="0.22" text-anchor="end" textLength="11.24" lengthAdjust="spacingAndGlyphs">0.0</text>
<text x="29.70" y="384.89" font-size="8.49" fill="#2e2e2e" stroke="#2e2e2e" stroke-width="0.22" text-anchor="end" textLength="11.24" lengthAdjust="spacingAndGlyphs">0.2</text>
<text x="29.70" y="365.57" font-size="8.49" fill="#2e2e2e" stroke="#2e2e2e" stroke-width="0.22" text-anchor="end" textLength="11.24" lengthAdjust="spacingAndGlyphs">0.4</text>
<text x="29.70" y="346.25" font-size="8.49" fill="#2e2e2e" stroke="#2e2e2e" stroke-width="0.22" text-anchor="end" textLength="11.24" lengthAdjust="spacingAndGlyphs">0.6</text>
<text x="29.70" y="326.93" font-size="8.49" fill="#2e2e2e" stroke="#2e2e2e" stroke-width="0.22" text-anchor="end" textLength="11.24" lengthAdjust="spacingAndGlyphs">0.8</text>
<text x="29.70" y="307.61" font-size="8.49" fill="#2e2e2e" stroke="#2e2e2e" stroke-width="0.22" text-anchor="end" textLength="11.24" lengthAdjust="spacingAndGlyphs">1.0</text>
<text x="38.30" y="415.50" font-size="8.49" fill="#2e2e2e" stroke="#2e2e2e" stroke-width="0.22" text-anchor="middle" textLength="4.50" lengthAdjust="spacingAndGlyphs">0</text>
<text x="71.20" y="415.50" font-size="8.49" fill="#2e2e2e" stroke="#2e2e2e" stroke-width="0.22" text-anchor="middle" textLength="17.98" lengthAdjust="spacingAndGlyphs">1000</text>
<text x="104.10" y="415.50" font-size="8.49" fill="#2e2e2e" stroke="#2e2e2e" stroke-width="0.22" text-anchor="middle" textLength="17.98" lengthAdjust="spacingAndGlyphs">2000</text>
<text x="137.00" y="415.50" font-size="8.49" fill="#2e2e2e" stroke="#2e2e2e" stroke-width="0.22" text-anchor="middle" textLength="17.98" lengthAdjust="spacingAndGlyphs">3000</text>
<text x="169.90" y="415.50" font-size="8.49" fill="#2e2e2e" stroke="#2e2e2e" stroke-width="0.22" text-anchor="middle" textLength="17.98" lengthAdjust="spacingAndGlyphs">4000</text>
<text x="11.70" y="349.90" font-size="8.44" fill="#222" stroke="#222" stroke-width="0.3" text-anchor="middle" textLength="45.60" lengthAdjust="spacingAndGlyphs" transform="rotate(-90 11.70 349.90)">Cum Survival</text>
<text x="9.91" y="434.70" font-size="14.29" fill="#111" stroke="#111" stroke-width="0.3" textLength="19.67" lengthAdjust="spacingAndGlyphs">(g)</text>
<text x="39.14" y="428.30" font-size="8.21" fill="#2e2e2e" stroke="#2e2e2e" stroke-width="0.22" textLength="130.63" lengthAdjust="spacingAndGlyphs">Time from diagnosis to death (days)</text>
<text x="102.70" y="306.60" font-size="9.10" fill="#111" stroke="#111" stroke-width="0.2" font-weight="bold" textLength="67.80" lengthAdjust="spacingAndGlyphs">ASIA Impairment</text>
<text x="125.40" y="314.80" font-size="9.10" fill="#111" stroke="#111" stroke-width="0.2" font-weight="bold" textLength="22.90" lengthAdjust="spacingAndGlyphs">Score</text>
<path d="M127.10,324.00H130.10V321.60H134.37V323.80" fill="none" stroke="#6aa2ee" stroke-width="1.15"/>
<text x="135.20" y="325.10" font-size="6.20" fill="#303030" stroke="#303030" stroke-width="0.24" textLength="10.50" lengthAdjust="spacingAndGlyphs">A-C</text>
<path d="M127.10,331.80H130.10V329.40H134.37V331.60" fill="none" stroke="#e04f72" stroke-width="1.15"/>
<text x="135.20" y="332.90" font-size="6.20" fill="#303030" stroke="#303030" stroke-width="0.24" textLength="10.50" lengthAdjust="spacingAndGlyphs">D-E</text>
<text x="119.30" y="359.60" font-size="10.20" fill="#ff0000" stroke="#ff0000" stroke-width="0.3" font-weight="bold" font-style="italic" textLength="48.60" lengthAdjust="spacingAndGlyphs">p = 0.004</text>
<path d="M38.79,303.35H38.81V304.97H38.83V306.59H38.85V308.21H38.87V309.83H38.90V311.44H38.92V313.06H38.94V314.68H38.96V316.30H38.98V317.92H39.00V319.54H39.02V321.16H39.04V322.78H39.06V324.40H39.08V326.02H39.10V327.64H39.12V329.26H39.14V330.88H39.16V332.50H39.18V334.12H39.20V335.74H39.22V337.36H39.24V338.98H39.26V340.60H39.28V342.21H39.30V343.83H39.32V345.45H39.34V347.07H39.36V348.69H39.38V350.31H39.40V351.93H39.42V353.55H39.44V355.17H39.46V356.79H39.48V358.41H40.50V378.79H41.79V379.66H42.09V381.21H42.40V382.75H42.70V384.30H43.00V385.84H75.51V393.38H153.71V399.56" fill="none" stroke="#6aa2ee" stroke-width="1.1"/>
<path d="M38.79,303.35H38.90V304.93H39.02V306.52H39.13V308.11H39.24V309.69H39.35V311.28H39.46V312.87H39.57V314.45H39.68V316.04H39.79V317.62H39.90V319.21H40.01V320.80H40.12V322.38H40.23V323.97H40.34V325.56H40.46V327.14H40.57V328.73H40.68V330.31H40.79V331.90H40.90V333.49H41.01V335.06H41.12V336.63H41.23V338.20H41.34V339.77H41.45V341.34H41.57V342.91H41.68V344.48H41.79V346.04H42.36V347.78H42.93V349.52H43.50V351.26H43.84V352.82H44.17V354.38H44.51V355.93H44.85V357.49H45.18V359.05H45.52V360.61H45.86V362.16H46.20V363.72H47.10V365.20H47.99V366.69H48.89V368.17H49.76V369.65H50.63V371.13H51.49V372.61H53.30V374.11H55.11V375.60H57.76V376.96H60.41V378.31H63.11V379.90H65.80V381.50H68.01V382.85H70.21V384.20H78.21V384.97H83.50V386.81H87.06V388.16H90.61V389.51H99.49V391.25H103.26V392.82H107.02V394.38H110.79V395.95H114.55V397.51H118.31V399.08" fill="none" stroke="#e04f72" stroke-width="1.25"/>
<line x1="214.60" y1="296.40" x2="214.60" y2="410.20" stroke="#d4d4d4" stroke-width="1.6"/>
<line x1="214.00" y1="409.60" x2="360.40" y2="409.60" stroke="#d4d4d4" stroke-width="1.2"/>
<text x="213.00" y="408.61" font-size="8.50" fill="#2e2e2e" stroke="#2e2e2e" stroke-width="0.22" text-anchor="end" textLength="11.25" lengthAdjust="spacingAndGlyphs">0.0</text>
<text x="213.00" y="389.27" font-size="8.50" fill="#2e2e2e" stroke="#2e2e2e" stroke-width="0.22" text-anchor="end" textLength="11.25" lengthAdjust="spacingAndGlyphs">0.2</text>
<text x="213.00" y="369.93" font-size="8.50" fill="#2e2e2e" stroke="#2e2e2e" stroke-width="0.22" text-anchor="end" textLength="11.25" lengthAdjust="spacingAndGlyphs">0.4</text>
<text x="213.00" y="350.59" font-size="8.50" fill="#2e2e2e" stroke="#2e2e2e" stroke-width="0.22" text-anchor="end" textLength="11.25" lengthAdjust="spacingAndGlyphs">0.6</text>
<text x="213.00" y="331.25" font-size="8.50" fill="#2e2e2e" stroke="#2e2e2e" stroke-width="0.22" text-anchor="end" textLength="11.25" lengthAdjust="spacingAndGlyphs">0.8</text>
<text x="213.00" y="311.91" font-size="8.50" fill="#2e2e2e" stroke="#2e2e2e" stroke-width="0.22" text-anchor="end" textLength="11.25" lengthAdjust="spacingAndGlyphs">1.0</text>
<text x="222.40" y="419.80" font-size="8.50" fill="#2e2e2e" stroke="#2e2e2e" stroke-width="0.22" text-anchor="middle" textLength="4.50" lengthAdjust="spacingAndGlyphs">0</text>
<text x="255.00" y="419.80" font-size="8.50" fill="#2e2e2e" stroke="#2e2e2e" stroke-width="0.22" text-anchor="middle" textLength="18.00" lengthAdjust="spacingAndGlyphs">1000</text>
<text x="287.60" y="419.80" font-size="8.50" fill="#2e2e2e" stroke="#2e2e2e" stroke-width="0.22" text-anchor="middle" textLength="18.00" lengthAdjust="spacingAndGlyphs">2000</text>
<text x="320.20" y="419.80" font-size="8.50" fill="#2e2e2e" stroke="#2e2e2e" stroke-width="0.22" text-anchor="middle" textLength="18.00" lengthAdjust="spacingAndGlyphs">3000</text>
<text x="352.80" y="419.80" font-size="8.50" fill="#2e2e2e" stroke="#2e2e2e" stroke-width="0.22" text-anchor="middle" textLength="18.00" lengthAdjust="spacingAndGlyphs">4000</text>
<text x="195.80" y="354.40" font-size="8.55" fill="#222" stroke="#222" stroke-width="0.3" text-anchor="middle" textLength="46.20" lengthAdjust="spacingAndGlyphs" transform="rotate(-90 195.80 354.40)">Cum Survival</text>
<text x="187.89" y="434.63" font-size="14.61" fill="#111" stroke="#111" stroke-width="0.3" textLength="19.81" lengthAdjust="spacingAndGlyphs">(h)</text>
<text x="222.64" y="432.60" font-size="8.21" fill="#2e2e2e" stroke="#2e2e2e" stroke-width="0.22" textLength="130.73" lengthAdjust="spacingAndGlyphs">Time from diagnosis to death (days)</text>
<text x="304.90" y="310.80" font-size="9.20" fill="#111" stroke="#111" stroke-width="0.2" font-weight="bold" textLength="36.10" lengthAdjust="spacingAndGlyphs">Adjuvant</text>
<text x="293.50" y="319.10" font-size="9.31" fill="#111" stroke="#111" stroke-width="0.2" font-weight="bold" textLength="59.00" lengthAdjust="spacingAndGlyphs">chemotherapy</text>
<path d="M295.10,328.40H297.99V326.00H302.09V328.20" fill="none" stroke="#6aa2ee" stroke-width="1.15"/>
<text x="302.90" y="329.50" font-size="6.20" fill="#303030" stroke="#303030" stroke-width="0.24" textLength="7.80" lengthAdjust="spacingAndGlyphs">No</text>
<path d="M333.30,328.40H336.19V326.00H340.29V328.20" fill="none" stroke="#e04f72" stroke-width="1.15"/>
<text x="341.10" y="329.50" font-size="6.20" fill="#303030" stroke="#303030" stroke-width="0.24" textLength="11.00" lengthAdjust="spacingAndGlyphs">Yes</text>
<text x="306.20" y="359.60" font-size="10.20" fill="#ff0000" stroke="#ff0000" stroke-width="0.3" font-weight="bold" font-style="italic" textLength="48.20" lengthAdjust="spacingAndGlyphs">p &lt; 0.001</text>
<path d="M222.40,307.65H222.44V309.25H222.48V310.86H222.51V312.47H222.55V314.07H222.59V315.68H222.63V317.28H222.67V318.89H222.70V320.50H222.74V322.10H222.78V323.71H222.82V325.32H222.86V326.92H222.89V328.53H222.93V330.13H222.97V331.74H223.01V333.35H223.05V334.95H223.08V336.56H223.12V338.15H223.16V339.74H223.20V341.33H223.24V342.92H223.28V344.51H223.32V346.09H223.36V347.68H223.40V349.27H223.44V350.86H223.48V352.45H223.52V354.04H223.56V355.63H223.60V357.22H223.64V358.81H223.68V360.40H223.72V361.99H223.76V363.58H223.80V365.17H223.84V366.76H223.88V368.34H223.92V369.93H223.96V371.52H224.00V373.11H224.94V374.51H225.89V375.92H226.50V377.40H227.11V378.88H227.71V380.36H228.01V382.20H228.30V384.04H228.59V385.88H229.14V387.33H229.68V388.78H230.22V390.23H230.76V391.68H231.30V393.13H233.16V394.77H235.02V396.42H246.92V398.64H252.29V400.38H270.62V402.22H337.31V402.22" fill="none" stroke="#6aa2ee" stroke-width="1.1"/>
<path d="M222.40,307.65H222.93V310.68H223.46V313.71H224.00V316.74H224.38V319.97H224.75V323.20H225.13V326.43H225.51V329.66H225.89V332.88H226.50V336.53H227.11V340.17H227.71V343.81H228.60V346.81H229.50V349.81H230.39V352.81H234.10V356.48H238.60V359.28H241.41V363.83H247.80V366.54H250.04V369.29H252.29V372.05H258.68V372.92H262.40V377.46H266.90V382.01H270.62V384.81H277.89V385.78H282.51V388.49H287.01V390.71H290.70V394.87H295.20V399.51H300.71V399.99H301.29V403.77" fill="none" stroke="#e04f72" stroke-width="1.25"/>
<line x1="395.50" y1="300.00" x2="395.50" y2="414.80" stroke="#d4d4d4" stroke-width="1.6"/>
<line x1="394.90" y1="414.20" x2="540.90" y2="414.20" stroke="#d4d4d4" stroke-width="1.2"/>
<text x="394.30" y="412.41" font-size="8.48" fill="#2e2e2e" stroke="#2e2e2e" stroke-width="0.22" text-anchor="end" textLength="11.22" lengthAdjust="spacingAndGlyphs">0.0</text>
<text x="394.30" y="393.17" font-size="8.48" fill="#2e2e2e" stroke="#2e2e2e" stroke-width="0.22" text-anchor="end" textLength="11.22" lengthAdjust="spacingAndGlyphs">0.2</text>
<text x="394.30" y="373.93" font-size="8.48" fill="#2e2e2e" stroke="#2e2e2e" stroke-width="0.22" text-anchor="end" textLength="11.22" lengthAdjust="spacingAndGlyphs">0.4</text>
<text x="394.30" y="354.69" font-size="8.48" fill="#2e2e2e" stroke="#2e2e2e" stroke-width="0.22" text-anchor="end" textLength="11.22" lengthAdjust="spacingAndGlyphs">0.6</text>
<text x="394.30" y="335.45" font-size="8.48" fill="#2e2e2e" stroke="#2e2e2e" stroke-width="0.22" text-anchor="end" textLength="11.22" lengthAdjust="spacingAndGlyphs">0.8</text>
<text x="394.30" y="316.21" font-size="8.48" fill="#2e2e2e" stroke="#2e2e2e" stroke-width="0.22" text-anchor="end" textLength="11.22" lengthAdjust="spacingAndGlyphs">1.0</text>
<text x="402.80" y="423.70" font-size="8.48" fill="#2e2e2e" stroke="#2e2e2e" stroke-width="0.22" text-anchor="middle" textLength="4.49" lengthAdjust="spacingAndGlyphs">0</text>
<text x="435.50" y="423.70" font-size="8.48" fill="#2e2e2e" stroke="#2e2e2e" stroke-width="0.22" text-anchor="middle" textLength="17.95" lengthAdjust="spacingAndGlyphs">1000</text>
<text x="468.20" y="423.70" font-size="8.48" fill="#2e2e2e" stroke="#2e2e2e" stroke-width="0.22" text-anchor="middle" textLength="17.95" lengthAdjust="spacingAndGlyphs">2000</text>
<text x="500.90" y="423.70" font-size="8.48" fill="#2e2e2e" stroke="#2e2e2e" stroke-width="0.22" text-anchor="middle" textLength="17.95" lengthAdjust="spacingAndGlyphs">3000</text>
<text x="533.60" y="423.70" font-size="8.48" fill="#2e2e2e" stroke="#2e2e2e" stroke-width="0.22" text-anchor="middle" textLength="17.95" lengthAdjust="spacingAndGlyphs">4000</text>
<text x="376.70" y="358.60" font-size="8.44" fill="#222" stroke="#222" stroke-width="0.3" text-anchor="middle" textLength="45.60" lengthAdjust="spacingAndGlyphs" transform="rotate(-90 376.70 358.60)">Cum Survival</text>
<text x="370.59" y="434.70" font-size="14.29" fill="#111" stroke="#111" stroke-width="0.1" font-weight="bold" textLength="14.24" lengthAdjust="spacingAndGlyphs">(i)</text>
<text x="403.25" y="436.90" font-size="8.20" fill="#2e2e2e" stroke="#2e2e2e" stroke-width="0.22" textLength="130.43" lengthAdjust="spacingAndGlyphs">Time from diagnosis to death (days)</text>
<text x="481.30" y="314.50" font-size="9.20" fill="#111" stroke="#111" stroke-width="0.2" font-weight="bold" textLength="35.90" lengthAdjust="spacingAndGlyphs">Adjuvant</text>
<text x="473.30" y="323.30" font-size="9.26" fill="#111" stroke="#111" stroke-width="0.2" font-weight="bold" textLength="51.60" lengthAdjust="spacingAndGlyphs">radiotherapy</text>
<path d="M470.10,332.10H472.91V329.70H476.91V331.90" fill="none" stroke="#6aa2ee" stroke-width="1.15"/>
<text x="477.70" y="333.20" font-size="6.20" fill="#303030" stroke="#303030" stroke-width="0.24" textLength="7.40" lengthAdjust="spacingAndGlyphs">No</text>
<path d="M510.80,332.10H513.84V329.70H518.16V331.90" fill="none" stroke="#e04f72" stroke-width="1.15"/>
<text x="519.00" y="333.20" font-size="6.20" fill="#303030" stroke="#303030" stroke-width="0.24" textLength="10.40" lengthAdjust="spacingAndGlyphs">Yes</text>
<text x="489.30" y="359.60" font-size="10.20" fill="#ff0000" stroke="#ff0000" stroke-width="0.3" font-weight="bold" font-style="italic" textLength="48.20" lengthAdjust="spacingAndGlyphs">p &lt; 0.001</text>
<path d="M402.80,311.95H402.86V313.56H402.92V315.18H402.98V316.79H403.03V318.40H403.09V320.01H403.15V321.62H403.21V323.23H403.27V324.84H403.33V326.46H403.39V328.07H403.44V329.68H403.50V331.29H403.56V332.90H403.62V334.51H403.68V336.12H403.74V337.73H403.80V339.35H403.85V340.96H403.91V342.57H403.97V344.18H404.03V345.79H404.09V347.40H404.15V349.01H404.21V350.63H404.25V352.26H404.30V353.90H404.35V355.53H404.39V357.17H404.44V358.80H404.48V360.44H404.53V362.07H404.58V363.71H404.62V365.34H404.67V366.98H404.72V368.62H404.76V370.25H404.81V371.89H404.86V373.52H404.90V375.16H404.95V376.79H405.00V378.43H405.04V380.06H405.09V381.70H406.99V383.53H407.35V384.99H407.71V386.45H408.06V387.91H408.42V389.37H408.78V390.84H410.14V392.62H411.50V394.40H412.90V395.79H414.31V397.19H415.65V399.01H416.99V400.84H418.35V402.24H419.71V403.63H451.69V406.33H481.80V406.33" fill="none" stroke="#6aa2ee" stroke-width="1.1"/>
<path d="M402.80,311.95H403.18V314.74H403.56V317.53H403.94V320.32H404.33V323.11H404.71V325.90H405.09V328.69H405.27V331.62H405.46V334.54H405.64V337.47H405.82V340.39H406.00V343.31H406.95V346.97H407.90V350.63H408.50V353.67H409.10V356.72H409.70V359.76H410.60V363.42H411.50V367.08H414.31V370.73H418.79V373.52H423.40V376.21H427.91V377.18H430.69V380.83H435.21V383.53H440.70V387.09H446.19V389.01H450.80V392.57H459.89V396.32H467.19V399.01H469.95V401.32H472.71V403.63H477.19V405.36H481.80V407.00H517.61V407.00" fill="none" stroke="#e04f72" stroke-width="1.25"/>
<line x1="31.60" y1="455.50" x2="31.60" y2="569.60" stroke="#d4d4d4" stroke-width="1.6"/>
<line x1="31.00" y1="569.00" x2="177.70" y2="569.00" stroke="#d4d4d4" stroke-width="1.2"/>
<text x="29.70" y="567.51" font-size="8.49" fill="#2e2e2e" stroke="#2e2e2e" stroke-width="0.22" text-anchor="end" textLength="11.24" lengthAdjust="spacingAndGlyphs">0.0</text>
<text x="29.70" y="548.23" font-size="8.49" fill="#2e2e2e" stroke="#2e2e2e" stroke-width="0.22" text-anchor="end" textLength="11.24" lengthAdjust="spacingAndGlyphs">0.2</text>
<text x="29.70" y="528.95" font-size="8.49" fill="#2e2e2e" stroke="#2e2e2e" stroke-width="0.22" text-anchor="end" textLength="11.24" lengthAdjust="spacingAndGlyphs">0.4</text>
<text x="29.70" y="509.67" font-size="8.49" fill="#2e2e2e" stroke="#2e2e2e" stroke-width="0.22" text-anchor="end" textLength="11.24" lengthAdjust="spacingAndGlyphs">0.6</text>
<text x="29.70" y="490.39" font-size="8.49" fill="#2e2e2e" stroke="#2e2e2e" stroke-width="0.22" text-anchor="end" textLength="11.24" lengthAdjust="spacingAndGlyphs">0.8</text>
<text x="29.70" y="471.11" font-size="8.49" fill="#2e2e2e" stroke="#2e2e2e" stroke-width="0.22" text-anchor="end" textLength="11.24" lengthAdjust="spacingAndGlyphs">1.0</text>
<text x="38.10" y="578.70" font-size="8.49" fill="#2e2e2e" stroke="#2e2e2e" stroke-width="0.22" text-anchor="middle" textLength="4.50" lengthAdjust="spacingAndGlyphs">0</text>
<text x="71.10" y="578.70" font-size="8.49" fill="#2e2e2e" stroke="#2e2e2e" stroke-width="0.22" text-anchor="middle" textLength="17.98" lengthAdjust="spacingAndGlyphs">1000</text>
<text x="104.10" y="578.70" font-size="8.49" fill="#2e2e2e" stroke="#2e2e2e" stroke-width="0.22" text-anchor="middle" textLength="17.98" lengthAdjust="spacingAndGlyphs">2000</text>
<text x="137.10" y="578.70" font-size="8.49" fill="#2e2e2e" stroke="#2e2e2e" stroke-width="0.22" text-anchor="middle" textLength="17.98" lengthAdjust="spacingAndGlyphs">3000</text>
<text x="170.10" y="578.70" font-size="8.49" fill="#2e2e2e" stroke="#2e2e2e" stroke-width="0.22" text-anchor="middle" textLength="17.98" lengthAdjust="spacingAndGlyphs">4000</text>
<text x="11.70" y="513.50" font-size="8.40" fill="#222" stroke="#222" stroke-width="0.3" text-anchor="middle" textLength="45.40" lengthAdjust="spacingAndGlyphs" transform="rotate(-90 11.70 513.50)">Cum Survival</text>
<text x="11.23" y="595.04" font-size="14.07" fill="#111" stroke="#111" stroke-width="0.3" textLength="14.54" lengthAdjust="spacingAndGlyphs">(j)</text>
<text x="39.14" y="591.80" font-size="8.21" fill="#2e2e2e" stroke="#2e2e2e" stroke-width="0.22" textLength="130.63" lengthAdjust="spacingAndGlyphs">Time from diagnosis to death (days)</text>
<text x="125.40" y="475.50" font-size="8.61" fill="#111" stroke="#111" stroke-width="0.2" font-weight="bold" textLength="16.20" lengthAdjust="spacingAndGlyphs">ASA</text>
<text x="105.30" y="484.00" font-size="9.42" fill="#111" stroke="#111" stroke-width="0.2" font-weight="bold" textLength="56.40" lengthAdjust="spacingAndGlyphs">Classification</text>
<path d="M102.00,493.20H104.96V490.80H109.18V493.00" fill="none" stroke="#6aa2ee" stroke-width="1.15"/>
<text x="110.00" y="494.30" font-size="6.20" fill="#303030" stroke="#303030" stroke-width="0.24" textLength="2.90" lengthAdjust="spacingAndGlyphs">II</text>
<path d="M126.70,493.20H129.63V490.80H133.78V493.00" fill="none" stroke="#e04f72" stroke-width="1.15"/>
<text x="134.60" y="494.30" font-size="6.20" fill="#303030" stroke="#303030" stroke-width="0.24" textLength="5.20" lengthAdjust="spacingAndGlyphs">III</text>
<path d="M152.50,493.20H155.31V490.80H159.31V493.00" fill="none" stroke="#4ea54e" stroke-width="1.15"/>
<text x="160.10" y="494.30" font-size="6.20" fill="#303030" stroke="#303030" stroke-width="0.24" textLength="5.70" lengthAdjust="spacingAndGlyphs">IV</text>
<text x="119.10" y="523.40" font-size="10.20" fill="#ff0000" stroke="#ff0000" stroke-width="0.3" font-weight="bold" font-style="italic" textLength="48.40" lengthAdjust="spacingAndGlyphs">p = 0.007</text>
<path d="M39.29,466.85H39.52V471.04H39.75V475.24H39.98V479.43H40.21V483.62H41.10V489.12H41.99V494.61H44.80V500.11H46.61V505.60H49.29V511.97H51.10V517.36H63.91V523.82H65.69V529.22H76.61V534.72H82.09V545.61H103.11V551.97H107.70V558.24H111.39V563.35" fill="none" stroke="#6aa2ee" stroke-width="1.1"/>
<path d="M39.29,466.85H39.34V468.49H39.39V470.14H39.44V471.78H39.49V473.43H39.54V475.07H39.60V476.72H39.65V478.36H39.70V480.00H39.75V481.65H39.80V483.29H39.85V484.94H39.90V486.58H39.96V488.22H40.01V489.87H40.06V491.51H40.11V493.16H40.16V494.80H40.21V496.45H40.29V498.10H40.37V499.76H40.46V501.41H40.54V503.07H40.62V504.73H40.70V506.38H40.78V508.04H40.86V509.70H40.94V511.35H41.02V513.01H41.10V514.66H41.40V516.19H41.70V517.72H41.99V519.24H42.29V520.77H42.59V522.30H42.89V523.82H43.27V525.27H43.65V526.71H44.03V528.16H44.42V529.61H44.80V531.05H45.70V532.85H46.60V534.65H47.51V536.45H48.70V537.99H49.90V539.54H51.10V541.08H53.40V542.91H55.69V544.74H61.20V547.06H68.39V549.27H77.60V551.10H82.16V552.45H86.71V553.80H94.10V555.54H99.51V556.70H106.81V559.11H117.70V562.19H154.09V562.19" fill="none" stroke="#e04f72" stroke-width="1.25"/>
<path d="M39.29,466.85V531.05H40.21V541.95H44.40V552.94H63.91V562.96" fill="none" stroke="#4ea54e" stroke-width="1.25"/>
<line x1="209.40" y1="454.50" x2="209.40" y2="571.60" stroke="#d4d4d4" stroke-width="1.6"/>
<line x1="208.80" y1="571.00" x2="357.60" y2="571.00" stroke="#d4d4d4" stroke-width="1.2"/>
<text x="208.20" y="569.70" font-size="7.88" fill="#2e2e2e" stroke="#2e2e2e" stroke-width="0.22" text-anchor="end" textLength="10.43" lengthAdjust="spacingAndGlyphs">0.0</text>
<text x="208.20" y="549.96" font-size="7.88" fill="#2e2e2e" stroke="#2e2e2e" stroke-width="0.22" text-anchor="end" textLength="10.43" lengthAdjust="spacingAndGlyphs">0.2</text>
<text x="208.20" y="530.22" font-size="7.88" fill="#2e2e2e" stroke="#2e2e2e" stroke-width="0.22" text-anchor="end" textLength="10.43" lengthAdjust="spacingAndGlyphs">0.4</text>
<text x="208.20" y="510.48" font-size="7.88" fill="#2e2e2e" stroke="#2e2e2e" stroke-width="0.22" text-anchor="end" textLength="10.43" lengthAdjust="spacingAndGlyphs">0.6</text>
<text x="208.20" y="490.74" font-size="7.88" fill="#2e2e2e" stroke="#2e2e2e" stroke-width="0.22" text-anchor="end" textLength="10.43" lengthAdjust="spacingAndGlyphs">0.8</text>
<text x="208.20" y="471.00" font-size="7.88" fill="#2e2e2e" stroke="#2e2e2e" stroke-width="0.22" text-anchor="end" textLength="10.43" lengthAdjust="spacingAndGlyphs">1.0</text>
<text x="216.80" y="580.60" font-size="7.88" fill="#2e2e2e" stroke="#2e2e2e" stroke-width="0.22" text-anchor="middle" textLength="4.17" lengthAdjust="spacingAndGlyphs">0</text>
<text x="250.10" y="580.60" font-size="7.88" fill="#2e2e2e" stroke="#2e2e2e" stroke-width="0.22" text-anchor="middle" textLength="16.69" lengthAdjust="spacingAndGlyphs">1000</text>
<text x="283.40" y="580.60" font-size="7.88" fill="#2e2e2e" stroke="#2e2e2e" stroke-width="0.22" text-anchor="middle" textLength="16.69" lengthAdjust="spacingAndGlyphs">2000</text>
<text x="316.70" y="580.60" font-size="7.88" fill="#2e2e2e" stroke="#2e2e2e" stroke-width="0.22" text-anchor="middle" textLength="16.69" lengthAdjust="spacingAndGlyphs">3000</text>
<text x="350.00" y="580.60" font-size="7.88" fill="#2e2e2e" stroke="#2e2e2e" stroke-width="0.22" text-anchor="middle" textLength="16.69" lengthAdjust="spacingAndGlyphs">4000</text>
<text x="191.70" y="514.10" font-size="7.83" fill="#222" stroke="#222" stroke-width="0.3" text-anchor="middle" textLength="42.30" lengthAdjust="spacingAndGlyphs" transform="rotate(-90 191.70 514.10)">Cum Survival</text>
<text x="184.00" y="595.27" font-size="13.97" fill="#111" stroke="#111" stroke-width="0.1" font-weight="bold" textLength="18.51" lengthAdjust="spacingAndGlyphs">(k)</text>
<text x="223.26" y="592.40" font-size="7.62" fill="#2e2e2e" stroke="#2e2e2e" stroke-width="0.22" textLength="121.28" lengthAdjust="spacingAndGlyphs">Time from diagnosis to death (days)</text>
<text x="288.80" y="467.40" font-size="8.67" fill="#111" stroke="#111" stroke-width="0.2" font-weight="bold" textLength="66.10" lengthAdjust="spacingAndGlyphs">Surgery outcome</text>
<path d="M301.30,475.50H304.07V473.10H308.02V475.30" fill="none" stroke="#6aa2ee" stroke-width="1.15"/>
<text x="308.80" y="476.60" font-size="6.20" fill="#303030" stroke="#303030" stroke-width="0.24" textLength="33.50" lengthAdjust="spacingAndGlyphs">Deterioration</text>
<path d="M301.30,482.50H304.07V480.10H308.02V482.30" fill="none" stroke="#e04f72" stroke-width="1.15"/>
<text x="308.80" y="483.60" font-size="6.20" fill="#303030" stroke="#303030" stroke-width="0.24" textLength="32.70" lengthAdjust="spacingAndGlyphs">Improvement</text>
<path d="M301.30,489.40H304.07V487.00H308.02V489.20" fill="none" stroke="#4ea54e" stroke-width="1.15"/>
<text x="308.80" y="490.50" font-size="6.20" fill="#303030" stroke="#303030" stroke-width="0.24" textLength="26.90" lengthAdjust="spacingAndGlyphs">No change</text>
<path d="M301.30,496.70H304.07V494.30H308.02V496.50" fill="none" stroke="#f28e4e" stroke-width="1.15"/>
<text x="308.80" y="497.80" font-size="6.20" fill="#303030" stroke="#303030" stroke-width="0.24" textLength="29.90" lengthAdjust="spacingAndGlyphs">Not leviable</text>
<text x="306.50" y="523.50" font-size="10.20" fill="#ff0000" stroke="#ff0000" stroke-width="0.3" font-weight="bold" font-style="italic" textLength="48.80" lengthAdjust="spacingAndGlyphs">p = 0.028</text>
<path d="M218.70,539.36V564.93" fill="none" stroke="#6aa2ee" stroke-width="1.1"/>
<path d="M217.30,466.92H217.45V468.54H217.59V470.17H217.74V471.79H217.88V473.42H218.03V475.04H218.18V476.67H218.32V478.29H218.47V479.92H218.61V481.54H218.76V483.17H218.91V484.79H219.05V486.42H219.20V488.04H219.34V489.69H219.49V491.33H219.63V492.98H219.77V494.62H219.92V496.27H220.06V497.91H220.21V499.56H220.35V501.20H220.50V502.85H220.75V504.37H221.00V505.90H221.25V507.43H221.50V508.96H221.75V510.49H221.99V512.02H222.37V513.50H222.75V514.99H223.13V516.47H223.51V517.95H223.89V519.43H224.17V520.91H224.45V522.39H224.73V523.87H225.01V525.35H225.29V526.83H226.06V528.38H226.82V529.92H227.59V531.47H228.99V533.34H230.39V535.22H232.25V537.04H234.12V538.87H235.96V540.25H237.81V541.63H240.11V543.07H242.41V544.50H248.00V546.27H254.50V547.26H262.79V549.14H277.71V551.01H280.30V552.49H283.10V554.37H284.57V555.78H286.03V557.20H287.50V558.61H290.79V560.49H297.49V564.04H334.72V564.04" fill="none" stroke="#e04f72" stroke-width="1.25"/>
<path d="M217.30,466.92H217.40V468.53H217.51V470.14H217.62V471.75H217.72V473.37H217.83V474.98H217.93V476.59H218.04V478.20H218.14V479.81H218.25V481.43H218.35V483.04H218.46V484.65H218.56V486.26H218.67V487.88H218.78V489.49H218.88V491.10H218.99V492.71H219.09V494.32H219.20V495.94H219.24V497.50H219.28V499.07H219.32V500.63H219.36V502.20H219.40V503.77H219.44V505.33H219.48V506.90H219.52V508.46H219.56V510.03H219.60V511.60H219.64V513.16H219.68V514.73H219.72V516.29H219.76V517.86H219.80V519.43H220.45V521.25H221.10V523.08H222.89V524.07H223.84V525.94H224.79V527.82H227.59V528.70H230.89V536.11H242.41V540.84H245.20V545.38H248.00V548.25H254.50V551.90H266.58V561.18H273.01V564.93" fill="none" stroke="#4ea54e" stroke-width="1.25"/>
<path d="M217.70,466.92V541.63H219.50V554.66H223.89V564.93" fill="none" stroke="#f28e4e" stroke-width="1.25"/>
<line x1="393.90" y1="455.50" x2="393.90" y2="569.80" stroke="#d4d4d4" stroke-width="1.6"/>
<line x1="393.30" y1="569.20" x2="539.50" y2="569.20" stroke="#d4d4d4" stroke-width="1.2"/>
<text x="392.20" y="567.50" font-size="8.46" fill="#2e2e2e" stroke="#2e2e2e" stroke-width="0.22" text-anchor="end" textLength="11.20" lengthAdjust="spacingAndGlyphs">0.0</text>
<text x="392.20" y="548.24" font-size="8.46" fill="#2e2e2e" stroke="#2e2e2e" stroke-width="0.22" text-anchor="end" textLength="11.20" lengthAdjust="spacingAndGlyphs">0.2</text>
<text x="392.20" y="528.98" font-size="8.46" fill="#2e2e2e" stroke="#2e2e2e" stroke-width="0.22" text-anchor="end" textLength="11.20" lengthAdjust="spacingAndGlyphs">0.4</text>
<text x="392.20" y="509.72" font-size="8.46" fill="#2e2e2e" stroke="#2e2e2e" stroke-width="0.22" text-anchor="end" textLength="11.20" lengthAdjust="spacingAndGlyphs">0.6</text>
<text x="392.20" y="490.46" font-size="8.46" fill="#2e2e2e" stroke="#2e2e2e" stroke-width="0.22" text-anchor="end" textLength="11.20" lengthAdjust="spacingAndGlyphs">0.8</text>
<text x="392.20" y="471.20" font-size="8.46" fill="#2e2e2e" stroke="#2e2e2e" stroke-width="0.22" text-anchor="end" textLength="11.20" lengthAdjust="spacingAndGlyphs">1.0</text>
<text x="401.00" y="578.70" font-size="8.46" fill="#2e2e2e" stroke="#2e2e2e" stroke-width="0.22" text-anchor="middle" textLength="4.48" lengthAdjust="spacingAndGlyphs">0</text>
<text x="433.70" y="578.70" font-size="8.46" fill="#2e2e2e" stroke="#2e2e2e" stroke-width="0.22" text-anchor="middle" textLength="17.91" lengthAdjust="spacingAndGlyphs">1000</text>
<text x="466.40" y="578.70" font-size="8.46" fill="#2e2e2e" stroke="#2e2e2e" stroke-width="0.22" text-anchor="middle" textLength="17.91" lengthAdjust="spacingAndGlyphs">2000</text>
<text x="499.10" y="578.70" font-size="8.46" fill="#2e2e2e" stroke="#2e2e2e" stroke-width="0.22" text-anchor="middle" textLength="17.91" lengthAdjust="spacingAndGlyphs">3000</text>
<text x="531.80" y="578.70" font-size="8.46" fill="#2e2e2e" stroke="#2e2e2e" stroke-width="0.22" text-anchor="middle" textLength="17.91" lengthAdjust="spacingAndGlyphs">4000</text>
<text x="374.80" y="513.70" font-size="8.31" fill="#222" stroke="#222" stroke-width="0.3" text-anchor="middle" textLength="44.90" lengthAdjust="spacingAndGlyphs" transform="rotate(-90 374.80 513.70)">Cum Survival</text>
<text x="365.53" y="595.27" font-size="13.97" fill="#111" stroke="#111" stroke-width="0.3" textLength="14.53" lengthAdjust="spacingAndGlyphs">(l)</text>
<text x="401.75" y="591.80" font-size="8.18" fill="#2e2e2e" stroke="#2e2e2e" stroke-width="0.22" textLength="130.13" lengthAdjust="spacingAndGlyphs">Time from diagnosis to death (days)</text>
<text x="456.50" y="473.90" font-size="8.88" fill="#111" stroke="#111" stroke-width="0.2" font-weight="bold" textLength="75.60" lengthAdjust="spacingAndGlyphs">Complication after</text>
<text x="469.10" y="482.10" font-size="9.20" fill="#111" stroke="#111" stroke-width="0.2" font-weight="bold" textLength="49.90" lengthAdjust="spacingAndGlyphs">first surgery</text>
<path d="M484.40,491.30H487.63V488.90H492.22V491.10" fill="none" stroke="#6aa2ee" stroke-width="1.15"/>
<text x="493.10" y="492.40" font-size="6.20" fill="#303030" stroke="#303030" stroke-width="0.24" textLength="6.50" lengthAdjust="spacingAndGlyphs">No</text>
<path d="M484.40,499.00H487.63V496.60H492.22V498.80" fill="none" stroke="#e04f72" stroke-width="1.15"/>
<text x="493.10" y="500.10" font-size="6.20" fill="#303030" stroke="#303030" stroke-width="0.24" textLength="10.60" lengthAdjust="spacingAndGlyphs">Yes</text>
<text x="488.70" y="523.80" font-size="10.20" fill="#ff0000" stroke="#ff0000" stroke-width="0.3" font-weight="bold" font-style="italic" textLength="47.50" lengthAdjust="spacingAndGlyphs">p = 0.001</text>
<path d="M401.33,466.95H401.42V468.52H401.51V470.08H401.61V471.65H401.70V473.22H401.79V474.78H401.88V476.35H401.98V477.91H402.07V479.48H402.16V481.05H402.26V482.61H402.35V484.18H402.44V485.75H402.54V487.31H402.63V488.88H402.72V490.44H402.81V492.01H402.91V493.58H403.00V495.14H403.09V496.71H403.31V498.38H403.53V500.05H403.75V501.72H403.96V503.39H404.18V505.05H404.40V506.72H406.79V508.55H407.02V510.14H407.25V511.73H407.47V513.32H407.70V514.91H408.15V516.50H408.60V518.09H409.05V519.68H409.50V521.26H410.41V522.77H411.31V524.28H412.22V525.79H413.14V527.65H414.07V529.51H415.00V531.38H416.19V532.89H417.39V534.39H418.59V535.90H423.20V537.73H425.46V539.08H427.72V540.43H430.00V542.21H432.29V543.99H438.70V547.27H441.86V548.85H445.01V550.44H447.76V552.18H450.51V553.91H456.49V554.30H468.89V557.57H480.30V562.00H516.01V562.00" fill="none" stroke="#6aa2ee" stroke-width="1.1"/>
<path d="M401.33,466.95H401.36V468.56H401.40V470.17H401.44V471.78H401.47V473.39H401.51V475.00H401.55V476.61H401.58V478.21H401.62V479.82H401.66V481.43H401.69V483.04H401.73V484.65H401.77V486.26H401.81V487.87H401.84V489.48H401.88V491.09H401.92V492.70H401.95V494.31H401.99V495.91H402.03V497.52H402.06V499.13H402.10V500.74H402.14V502.35H402.17V503.96H402.21V505.57H402.31V507.19H402.41V508.82H402.50V510.45H402.60V512.07H402.70V513.70H402.80V515.33H402.90V516.95H402.99V518.58H403.09V520.21H403.31V521.71H403.53V523.22H403.75V524.73H403.96V526.24H404.18V527.75H404.40V529.26H404.68V530.72H404.96V532.19H405.24V533.65H405.53V535.11H405.81V536.58H406.19V538.02H406.57V539.47H406.94V540.91H407.32V542.35H407.70V543.80H408.30V545.34H408.90V546.88H409.50V548.42H420.39V550.83H426.41V553.91H449.59V554.78H461.20V555.74H464.99V558.15H470.81V560.56H473.30V562.87" fill="none" stroke="#e04f72" stroke-width="1.25"/>
</svg></body></html>
